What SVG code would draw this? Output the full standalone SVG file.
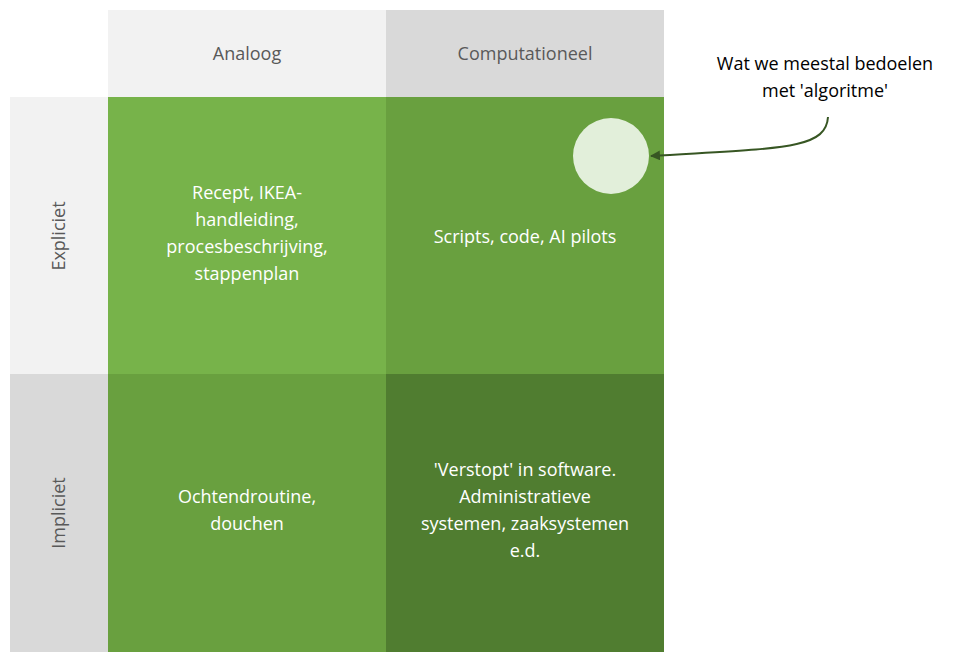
<svg xmlns="http://www.w3.org/2000/svg" width="980" height="668" viewBox="0 0 980 668">
<style>
text{font-family:"Open Sans","Liberation Sans",sans-serif;font-size:18px;text-anchor:middle}
.h{fill:#595959}
.w{fill:#ffffff}
</style>
<defs><marker id="ar" markerWidth="10" markerHeight="10" refX="9" refY="5" orient="auto" markerUnits="userSpaceOnUse"><path d="M0,0 L10,5 L0,10 z" fill="#375623"/></marker></defs>
<rect width="980" height="668" fill="#fff"/>
<g id="hdr-analoog"><rect x="108" y="10" width="278" height="87" fill="#f2f2f2"/><text class="h" x="247" y="60">Analoog</text></g>
<g id="hdr-comp"><rect x="386" y="10" width="278" height="87" fill="#d9d9d9"/><text class="h" x="525" y="60">Computationeel</text></g>
<g id="hdr-expl"><rect x="10" y="97" width="98" height="277" fill="#f2f2f2"/><text class="h" transform="translate(65,236) rotate(-90)">Expliciet</text></g>
<g id="hdr-impl"><rect x="10" y="374" width="98" height="278" fill="#d9d9d9"/><text class="h" transform="translate(65,513) rotate(-90)">Impliciet</text></g>
<g id="c11"><rect x="108" y="97" width="278" height="277" fill="#77b34a"/><text class="w" x="247" y="199">Recept, IKEA-</text><text class="w" x="247" y="226">handleiding,</text><text class="w" x="247" y="253">procesbeschrijving,</text><text class="w" x="247" y="280">stappenplan</text></g>
<g id="c12"><rect x="386" y="97" width="278" height="277" fill="#69a03f"/><text class="w" x="525" y="243">Scripts, code, AI pilots</text></g>
<g id="c21"><rect x="108" y="374" width="278" height="278" fill="#69a03f"/><text class="w" x="247" y="503">Ochtendroutine,</text><text class="w" x="247" y="530">douchen</text></g>
<g id="c22"><rect x="386" y="374" width="278" height="278" fill="#507d30"/><text class="w" x="525" y="476">'Verstopt' in software.</text><text class="w" x="525" y="503">Administratieve</text><text class="w" x="525" y="530">systemen, zaaksystemen</text><text class="w" x="525" y="557">e.d.</text></g>
<g id="circle"><circle cx="611" cy="156" r="38" fill="#e2efda"/></g>
<g id="note"><text x="825" y="70" fill="#000">Wat we meestal bedoelen</text><text x="825" y="97" fill="#000">met 'algoritme'</text></g>
<g id="connectors"><path d="M828,117 C826,150 780,148 651,156" fill="none" stroke="#375623" stroke-width="2" marker-end="url(#ar)"/></g>
</svg>
